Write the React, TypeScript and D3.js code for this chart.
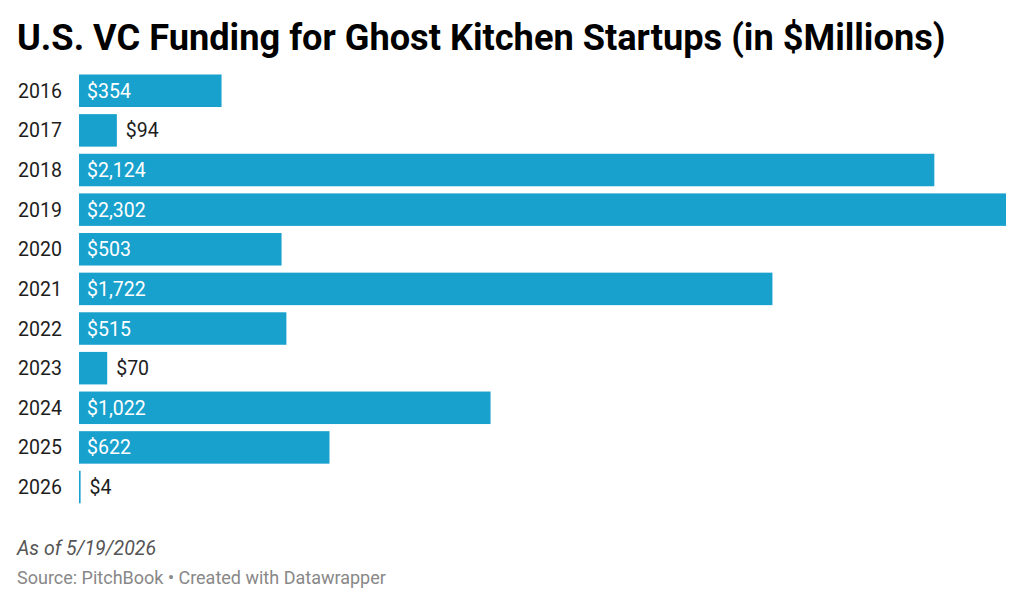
import React, { useEffect } from 'react';
import { scaleLinear, scaleBand, format } from 'd3';

const years = ['2016', '2017', '2018', '2019', '2020', '2021', '2022', '2023', '2024', '2025', '2026'];
const funding = [354, 94, 2124, 2302, 503, 1722, 515, 70, 1022, 622, 4];

const title = 'U.S. VC Funding for Ghost Kitchen Startups (in $Millions)';
const note = 'As of 5/19/2026';
const source = 'Source: PitchBook • Created with Datawrapper';

const W = 1024;
const H = 606;
const FONT = 'Roboto, "Noto Sans", sans-serif';
const BAR = '#18a1cd';

const fmt = (v: number) => '$' + format(',')(v);

export default function App() {
  useEffect(() => {
    document.body.style.margin = '0';
  }, []);

  const x = scaleLinear().domain([0, 2302]).range([79, 1006]);
  const y = scaleBand<string>()
    .domain(years)
    .range([74.5, 503.3])
    .paddingInner(0.18)
    .paddingOuter(0);

  return (
    <svg width={W} height={H} style={{ display: 'block', fontFamily: FONT }}>
      <rect width={W} height={H} fill="#fff" />
      <text x={17} y={50} fontSize={36.2} fontWeight={700} fill="#000">
        {title}
      </text>
      {years.map((yr, i) => {
        const v = funding[i];
        const y0 = y(yr)!;
        const bw = x(v) - x(0);
        const label = fmt(v);
        const inside = bw > label.length * 11 + 20;
        const cy = y0 + y.bandwidth() / 2;
        return (
          <g key={yr}>
            <text x={18} y={cy} dy="0.36em" fontSize={19.5} fill="#1d1d1d">
              {yr}
            </text>
            <rect x={x(0)} y={y0} width={Math.max(bw, 1.5)} height={y.bandwidth()} fill={BAR} />
            <text
              x={inside ? x(0) + 8 : x(v) + 9}
              y={cy}
              dy="0.36em"
              fontSize={19.5}
              fill={inside ? '#fff' : '#1d1d1d'}
            >
              {label}
            </text>
          </g>
        );
      })}
      <text x={17} y={555} fontSize={19.5} fontStyle="italic" fill="#555">
        {note}
      </text>
      <text x={17} y={584} fontSize={18} fill="#888">
        {source}
      </text>
    </svg>
  );
}
